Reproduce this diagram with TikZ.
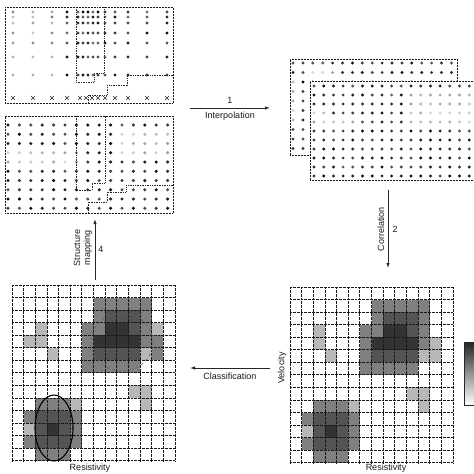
\documentclass[tikz,border=0pt]{standalone}
\usepackage{fontspec}
\setmainfont{Liberation Sans}
\usetikzlibrary{arrows.meta}
\colorlet{lev1}{black!28}
\colorlet{lev2}{black!50}
\colorlet{lev3}{black!67}
\colorlet{lev4}{black!80}
\tikzset{
  panelbox/.style={draw=black!90, line width=0.9pt, dash pattern=on 1pt off 0.5pt, inner sep=0pt},
  gridline/.style={draw=black!90, line width=0.85pt, dash pattern=on 0.9pt off 0.45pt},
  inner/.style={draw=black!85, line width=0.75pt, dash pattern=on 1pt off 0.7pt},
  arr/.style={draw=black!85, line width=0.8pt, -{Latex[length=5pt,width=3.4pt]}},
  lab/.style={font=\fontsize{9}{10}\selectfont, inner sep=0.5pt, text=black!90},
}
\newcommand\cellgrid[3]{%
  \edef\celllist{#3}%
  \foreach \r/\c/\l in \celllist {\fill[fill=lev\l] ({#1+\c*11.65},{#2+\r*12.55}) rectangle +(11.65,12.55);}
  \foreach \k in {0,...,14}{%
    \draw[gridline] ({#1+\k*11.65},#2) -- +(0,175.7);
    \draw[gridline] (#1,{#2+\k*12.55}) -- +(163.1,0);}
}
\newcommand\shadelist{1/7/2,1/8/2,1/9/2,1/10/2,1/11/2,%
2/7/2,2/8/3,2/9/3,2/10/3,2/11/2,%
3/2/1,3/6/2,3/7/2,3/8/4,3/9/4,3/10/3,3/11/2,%
4/2/1,4/6/2,4/7/4,4/8/4,4/9/4,4/10/4,4/11/2,4/12/1,%
5/3/1,5/6/2,5/7/3,5/8/3,5/9/3,5/10/3,5/11/1,%
6/6/2,6/7/2,6/8/2,6/9/2,6/10/2,%
8/10/1,8/11/1,9/11/1,%
9/2/2,9/3/2,9/4/2,9/5/1,%
10/1/2,10/2/3,10/3/3,10/4/3,10/5/2,%
11/1/1,11/2/3,11/3/4,11/4/3,11/5/2,%
12/1/2,12/2/3,12/3/3,12/4/3,12/5/2,%
13/2/2,13/3/2,13/4/2}
\begin{document}
\begin{tikzpicture}[x=1pt,y=-1pt]
\useasboundingbox (0,0) rectangle (474,474);
\pgfmathsetseed{7}
% ---------- panel 1 (top left) ----------
\node[panelbox, minimum width=168pt, minimum height=96pt] (p1) at (89,55) {};
\foreach \xx [count=\ci] in {13,33,52,67,78,83,88,93,98,105,115,128,147,167}{
  \foreach \yy in {12,17,23,33,43,57,75}{
    \pgfmathtruncatemacro\g{ifthenelse(\ci<=3, 20+30*rnd, 55+40*rnd)}
    \fill[black!\g] (\xx,\yy) circle (1.6);
  }}
\foreach \xx in {13,33,52,67,80,86,92,98,105,115,128,147,167}{
  \draw[black!85, line width=0.7pt] (\xx-1.8,96.2) -- (\xx+1.8,99.8) (\xx-1.8,99.8) -- (\xx+1.8,96.2);}
\draw[inner] (76,7) -- (76,82) -- (94,82) -- (94,73) -- (104,73) -- (104,7);
\draw[inner] (88,103) -- (88,95) -- (107,95) -- (107,85) -- (127,85) -- (127,75) -- (173,75);
% ---------- panel 2 (left middle) ----------
\node[panelbox, minimum width=168pt, minimum height=97pt] (p2) at (89,164.5) {};
\foreach \i in {0,...,14}{
  \foreach \j in {0,...,9}{
    \pgfmathsetmacro\xx{8+11.4*\i}
    \pgfmathsetmacro\yy{125+9.25*\j}
    \pgfmathtruncatemacro\g{ifthenelse(or(and(and(\j>=3,\j<=4),\i<=6),and(and(\j>=1,\j<=3),\i>=10)), 15+25*rnd, 65+33*rnd)}
    \fill[black!\g] (\xx,\yy) circle (1.7);
  }}
\draw[inner] (76,116) -- (76,190) -- (92,190) -- (92,183) -- (105,183) -- (105,116);
\draw[inner] (88,213) -- (88,202) -- (107,202) -- (107,192) -- (126,192) -- (126,185) -- (173,185);
% ---------- back panel (top right) ----------
\node[panelbox, minimum width=167pt, minimum height=96pt] (pb) at (373.5,107) {};
\foreach \i in {0,...,16}{
  \foreach \j in {0,...,9}{
    \pgfmathsetmacro\xx{293+9.9*\i}
    \pgfmathsetmacro\yy{63+9.5*\j}
    \pgfmathtruncatemacro\g{ifthenelse(or(and(\j==1,and(\i>=2,\i<=4)),and(\i==0,and(\j>=2,\j<=6))), 15+25*rnd, 65+33*rnd)}
    \fill[black!\g] (\xx,\yy) circle (1.6);
  }}
% ---------- front panel ----------
\node[panelbox, fill=white, minimum width=170pt, minimum height=99pt] (pf) at (395,130.5) {};
\foreach \i in {0,...,16}{
  \foreach \j in {0,...,10}{
    \pgfmathsetmacro\xx{314+9.7*\i}
    \pgfmathsetmacro\yy{86+9*\j}
    \pgfmathtruncatemacro\g{ifthenelse(or(and(and(\j>=1,\j<=4),\i>=10),or(and(\j==4,\i<=4),and(\j==3,\i<=1))), 15+25*rnd, 65+33*rnd)}
    \fill[black!\g] (\xx,\yy) circle (1.6);
  }}
% ---------- bottom grids ----------
\cellgrid{12}{285}{\shadelist,4/1/1,4/12/2,5/12/2,3/12/1}
\cellgrid{290}{287}{\shadelist,5/12/1}
\node[minimum width=163pt, minimum height=176pt, inner sep=0pt] (gl) at (93.5,373) {};
\node[minimum width=163pt, minimum height=176pt, inner sep=0pt] (gr) at (371.5,375) {};
\draw[black!60, line width=0.6pt, dashed] (122,342) ellipse (31 and 29);
\draw[black, line width=1.1pt] (54,428) ellipse (19 and 33);
% colour bar
\shade[top color=black!85, bottom color=white, draw=black!85, line width=0.6pt] (464,342) rectangle (480,405);
\node[minimum width=16pt, minimum height=63pt, inner sep=0pt] (cb) at (472,373.5) {};
% ---------- arrows and labels ----------
\coordinate (a1s) at (190,108); \coordinate (a1e) at (270,108);
\draw[arr] (a1s) -- (a1e);
\node[lab] (t1) at (230,100) {1};
\node[lab] (t1b) at (230,116) {Interpolation};
\coordinate (a2s) at (388,190); \coordinate (a2e) at (388,268);
\draw[arr] (a2s) -- (a2e);
\node[lab, rotate=90] (t2b) at (381,229) {Correlation};
\node[lab] (t2) at (395,229) {2};
\coordinate (a3s) at (270,368); \coordinate (a3e) at (190,368);
\draw[arr] (a3s) -- (a3e);
\node[lab] (t3b) at (230,376) {Classification};
\coordinate (a4s) at (95,280); \coordinate (a4e) at (95,219);
\draw[arr] (a4s) -- (a4e);
\node[lab, rotate=90, align=center] (t4b) at (83,248) {Structure\\mapping};
\node[lab] (t4) at (101,249) {4};
\node[lab, rotate=90] (vel) at (282,368) {Velocity};
\node[lab] (res1) at (90,468) {Resistivity};
\node[lab] (res2) at (386,468) {Resistivity};
\end{tikzpicture}
\end{document}
